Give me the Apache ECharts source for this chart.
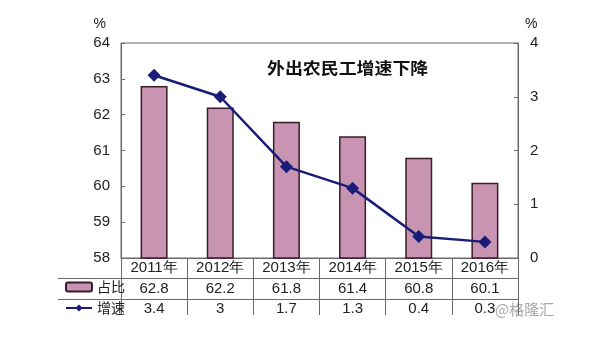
<!DOCTYPE html>
<html><head><meta charset="utf-8">
<script src="https://cdn.jsdelivr.net/npm/echarts@6/dist/echarts.min.js"></script>
<style>html,body{margin:0;padding:0;background:#fff}#c{width:600px;height:338px}</style>
</head><body><div id="c"></div>
<script>
const years = ['2011年','2012年','2013年','2014年','2015年','2016年'];
const share = [62.8, 62.2, 61.8, 61.4, 60.8, 60.1];
const growth = [3.4, 3, 1.7, 1.3, 0.4, 0.3];
const leftTicks = {min: 58, max: 64, interval: 1};
const rightTicks = {min: 0, max: 4, interval: 1};

const G = {left: 121, right: 518, top: 43, bottom: 258};
const txt = '#222';
const lineC = '#6a6a6a';
const font = 'Liberation Sans, Arial, sans-serif';
const cjk = 'Noto Sans CJK SC';

const chart = echarts.init(document.getElementById('c'), null, {renderer: 'canvas'});
chart.setOption({
  animation: false,
  backgroundColor: '#fff',
  textStyle: {fontFamily: font},
  grid: {left: G.left, right: 600 - G.right, top: G.top, bottom: 338 - G.bottom,
         show: true, borderColor: lineC, borderWidth: 1, backgroundColor: '#fff'},
  legend: [
    {data: ['占比'], left: 60, top: 275, itemWidth: 26, itemHeight: 9, icon: 'roundRect',
     textStyle: {fontSize: 14, color: txt, fontFamily: cjk}},
    {data: ['增速'], left: 60, top: 296, itemWidth: 26, itemHeight: 9,
     textStyle: {fontSize: 14, color: txt, fontFamily: cjk}}
  ],
  xAxis: {
    type: 'category', data: years,
    axisLine: {lineStyle: {color: lineC}},
    axisTick: {show: true, length: 57, interval: 0, lineStyle: {color: lineC}},
    axisLabel: {
      interval: 0, margin: 0, color: txt, fontSize: 15, lineHeight: 20.5,
      formatter: (v, i) => v + '\n' + share[i] + '\n' + growth[i]
    }
  },
  yAxis: [
    {type: 'value', min: leftTicks.min, max: leftTicks.max, interval: leftTicks.interval,
     name: '%', nameLocation: 'end', nameGap: 12,
     nameTextStyle: {color: txt, fontSize: 14, align: 'right', padding: [0, 15, 0, 0]},
     axisLine: {show: true, lineStyle: {color: lineC}},
     axisTick: {show: true, inside: true, length: 4, lineStyle: {color: lineC}},
     axisLabel: {color: txt, fontSize: 15, margin: 11},
     splitLine: {show: false}},
    {type: 'value', min: rightTicks.min, max: rightTicks.max, interval: rightTicks.interval,
     name: '%', nameLocation: 'end', nameGap: 12,
     nameTextStyle: {color: txt, fontSize: 14, align: 'left', padding: [0, 0, 0, 7]},
     axisLine: {show: true, lineStyle: {color: lineC}},
     axisTick: {show: true, inside: true, length: 4, lineStyle: {color: lineC}},
     axisLabel: {color: txt, fontSize: 15, margin: 12},
     splitLine: {show: false}}
  ],
  series: [
    {name: '占比', type: 'bar', yAxisIndex: 0, data: share, barWidth: 27,
     itemStyle: {color: '#c994b1', borderColor: '#3a1c2a', borderWidth: 1.5}},
    {name: '增速', type: 'line', yAxisIndex: 1, data: growth,
     symbol: 'diamond', symbolSize: 13,
     lineStyle: {color: '#1b1b78', width: 2.5},
     itemStyle: {color: '#1b1b78'}}
  ],
  graphic: [
    {type: 'line', shape: {x1: 58, y1: 278.5, x2: G.right, y2: 278.5}, style: {stroke: lineC, lineWidth: 1}},
    {type: 'line', shape: {x1: 58, y1: 299.5, x2: G.right, y2: 299.5}, style: {stroke: lineC, lineWidth: 1}},
    {type: 'text', x: 267, y: 60, scaleX: 1.12,
     style: {text: '外出农民工增速下降', fill: '#111', fontSize: 16, fontWeight: 'bold', fontFamily: cjk}},
    {type: 'text', left: 495, top: 302,
     style: {text: '@格隆汇', fill: '#a8a8a8', fontSize: 15, fontFamily: cjk}}
  ]
});
</script></body></html>
